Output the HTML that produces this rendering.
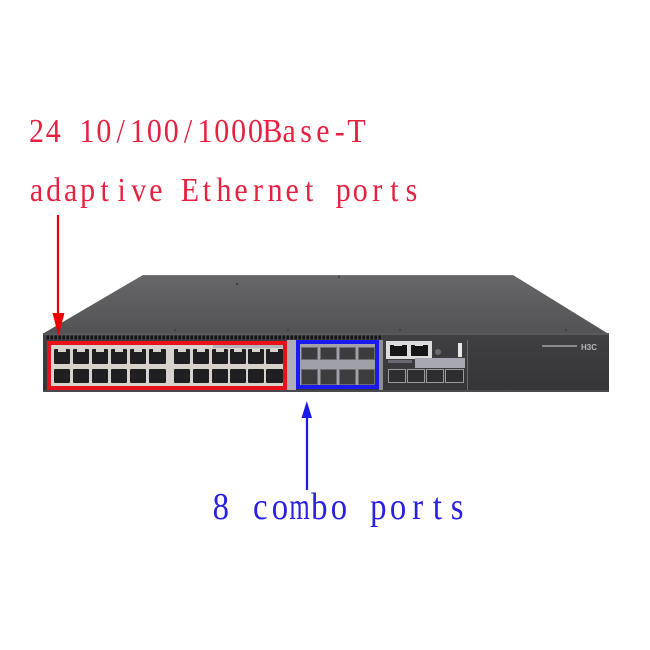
<!DOCTYPE html>
<html><head><meta charset="utf-8"><style>
html,body{margin:0;padding:0;background:#fff;}
svg{display:block;}
</style></head><body>
<svg width="650" height="650" viewBox="0 0 650 650" xmlns="http://www.w3.org/2000/svg">
<defs>
<linearGradient id="top" x1="0" y1="0" x2="0" y2="1">
<stop offset="0" stop-color="#676669"/>
<stop offset="0.5" stop-color="#5d5c5f"/>
<stop offset="1" stop-color="#535255"/>
</linearGradient>
<linearGradient id="front" x1="0" y1="0" x2="0" y2="1">
<stop offset="0" stop-color="#404043"/>
<stop offset="1" stop-color="#353538"/>
</linearGradient>
<pattern id="vent" x="46" y="335" width="4" height="5" patternUnits="userSpaceOnUse">
<rect width="4" height="5" fill="#4a4a4e"/>
<rect x="0.5" y="0.5" width="2.5" height="4" fill="#141416"/>
</pattern>
</defs>

<!-- texts (monospace-like cells) -->
<text transform="scale(0.88,1)" y="142" font-family="'Liberation Serif', serif" font-size="34" fill="#e5213f" text-anchor="middle" x="41.40 60.55 79.69 98.84 117.99 137.14 156.28 175.43 194.58 213.73 232.88 252.02 271.17 290.32 309.47 328.61 347.76 366.91 386.06 405.20">24 10/100/1000Base-T</text>
<text transform="scale(0.88,1)" y="201" font-family="'Liberation Serif', serif" font-size="34" fill="#e5213f" text-anchor="middle" x="41.50 60.86 80.23 99.59 118.95 138.32 157.68 177.05 196.41 215.77 235.14 254.5 273.86 293.23 312.59 331.95 351.32 370.68 390.05 409.41 428.77 448.14 467.5">adaptive Ethernet ports</text>
<text transform="scale(0.85,1)" y="519" font-family="'Liberation Serif', serif" font-size="38.5" fill="#2a20e0" text-anchor="middle" x="259.82 282.99 306.15 329.32 352.48 375.65 398.81 421.98 445.14 468.31 491.47 514.64 537.8">8 co bo ports</text>
<text transform="scale(0.68,1)" y="519" font-family="'Liberation Serif', serif" font-size="38.5" fill="#2a20e0" text-anchor="middle" x="440.6">m</text>

<!-- switch top face -->
<polygon points="143,275 513,275 607,333 44,333" fill="url(#top)"/>
<line x1="143" y1="275.5" x2="513" y2="275.5" stroke="#777679" stroke-width="1"/>
<circle cx="237" cy="284" r="1.2" fill="#444"/>
<circle cx="339" cy="277" r="1.2" fill="#444"/>
<circle cx="175" cy="330" r="1.2" fill="#444"/>
<circle cx="288" cy="330" r="1.2" fill="#444"/>
<circle cx="400" cy="330" r="1.2" fill="#444"/>
<circle cx="566" cy="330" r="1.2" fill="#444"/>
<!-- front face -->
<rect x="43" y="333" width="566" height="59" fill="url(#front)"/>
<rect x="43" y="333" width="566" height="2" fill="#5a5a5e"/>
<rect x="43" y="390" width="566" height="2" fill="#4a4a4e"/>
<!-- vent -->
<rect x="46" y="335" width="336" height="5" fill="url(#vent)"/>

<!-- RJ45 area -->
<rect x="49" y="343" width="236" height="45" fill="#d8d2cd"/>
<rect x="213" y="344" width="70" height="4" fill="#b4b4bc"/>
<g fill="#1f1f21">
<rect x="54" y="349" width="16" height="15" rx="1"/>
<rect x="73" y="349" width="16" height="15" rx="1"/>
<rect x="92" y="349" width="16" height="15" rx="1"/>
<rect x="111" y="349" width="16" height="15" rx="1"/>
<rect x="130" y="349" width="16" height="15" rx="1"/>
<rect x="149" y="349" width="17" height="15" rx="1"/>
<rect x="54" y="369" width="16" height="14" rx="1"/>
<rect x="73" y="369" width="16" height="14" rx="1"/>
<rect x="92" y="369" width="16" height="14" rx="1"/>
<rect x="111" y="369" width="16" height="14" rx="1"/>
<rect x="130" y="369" width="16" height="14" rx="1"/>
<rect x="149" y="369" width="17" height="14" rx="1"/>
<rect x="174" y="349" width="16" height="15" rx="1"/>
<rect x="193" y="349" width="16" height="15" rx="1"/>
<rect x="212" y="349" width="16" height="15" rx="1"/>
<rect x="230" y="349" width="16" height="15" rx="1"/>
<rect x="248" y="349" width="16" height="15" rx="1"/>
<rect x="266" y="349" width="17" height="15" rx="1"/>
<rect x="174" y="369" width="16" height="14" rx="1"/>
<rect x="193" y="369" width="16" height="14" rx="1"/>
<rect x="212" y="369" width="16" height="14" rx="1"/>
<rect x="230" y="369" width="16" height="14" rx="1"/>
<rect x="248" y="369" width="16" height="14" rx="1"/>
<rect x="266" y="369" width="17" height="14" rx="1"/>
</g>
<g fill="#d8d2cd">
<rect x="58" y="349" width="8" height="3"/><rect x="77" y="349" width="8" height="3"/><rect x="96" y="349" width="8" height="3"/><rect x="115" y="349" width="8" height="3"/><rect x="134" y="349" width="8" height="3"/><rect x="153" y="349" width="8" height="3"/>
<rect x="178" y="349" width="8" height="3"/><rect x="197" y="349" width="8" height="3"/><rect x="216" y="349" width="8" height="3"/><rect x="234" y="349" width="8" height="3"/><rect x="252" y="349" width="8" height="3"/><rect x="270" y="349" width="8" height="3"/>
</g>
<rect x="49" y="343" width="236" height="45" fill="none" stroke="#e8101a" stroke-width="4"/>

<!-- gray strip -->
<rect x="287" y="340" width="9" height="50" fill="#aeaeb6"/>

<!-- SFP combo area -->
<rect x="298" y="342" width="79" height="45" fill="#a0a0a8"/>
<g fill="#3c3c3f" stroke="#6e6e72" stroke-width="1">
<rect x="301.5" y="347.5" width="16" height="12"/>
<rect x="320.5" y="347.5" width="16" height="12"/>
<rect x="339.5" y="347.5" width="16" height="12"/>
<rect x="358.5" y="347.5" width="16" height="12"/>
<rect x="301.5" y="369.5" width="16" height="15"/>
<rect x="320.5" y="369.5" width="16" height="15"/>
<rect x="339.5" y="369.5" width="16" height="15"/>
<rect x="358.5" y="369.5" width="16" height="15"/>
</g>
<rect x="298" y="342" width="79" height="45" fill="none" stroke="#1a1af0" stroke-width="4"/>

<!-- right panel -->
<rect x="379" y="340" width="4" height="50" fill="#8e8e94"/>
<rect x="386" y="341" width="46" height="18" fill="#dcdcdc"/>
<rect x="390" y="345" width="17" height="11" fill="#151517"/>
<rect x="411" y="345" width="17" height="11" fill="#151517"/>
<rect x="394" y="343" width="8" height="3" fill="#dcdcdc"/>
<rect x="415" y="343" width="8" height="3" fill="#dcdcdc"/>
<rect x="388" y="360" width="24" height="3" fill="#6a6a70"/>
<rect x="415" y="358" width="50" height="10" fill="#a8a8b0"/>
<rect x="458" y="343" width="4" height="14" fill="#e8e8e8"/>
<circle cx="438" cy="352" r="3" fill="#6a6a6e"/>
<g fill="#2e2e31" stroke="#9a9aa0" stroke-width="1">
<rect x="388.5" y="369.5" width="17" height="13"/>
<rect x="407.5" y="369.5" width="17" height="13"/>
<rect x="426.5" y="369.5" width="17" height="13"/>
<rect x="445.5" y="369.5" width="18" height="13"/>
</g>
<rect x="467" y="340" width="1" height="50" fill="#6a6a70"/>
<!-- logo -->
<rect x="542" y="345" width="35" height="2" fill="#8a8a8e"/>
<text x="581" y="350" font-family="'Liberation Sans', sans-serif" font-size="8" font-weight="bold" fill="#b8b8bc">H3C</text>

<!-- arrows -->
<line x1="58" y1="215" x2="58" y2="318" stroke="#ee0000" stroke-width="2.2"/>
<polygon points="52.5,313 64.5,313 58.5,336" fill="#ee0000"/>
<line x1="307" y1="490" x2="307" y2="412" stroke="#1a1ae8" stroke-width="2.2"/>
<polygon points="301.5,418 312,418 306.8,401" fill="#1a1ae8"/>
</svg>
</body></html>
